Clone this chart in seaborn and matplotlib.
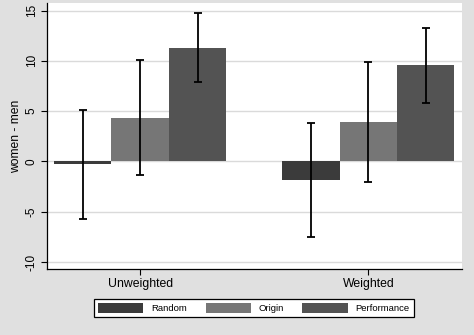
import matplotlib
matplotlib.use("Agg")
import matplotlib.pyplot as plt
from matplotlib.patches import Patch
import seaborn as sns
import pandas as pd

groups = ["Unweighted", "Weighted"]
series = ["Random", "Origin", "Performance"]
random_vals = [-0.3, -1.85]
origin_vals = [4.35, 3.9]
performance_vals = [11.3, 9.55]
random_lo = [-5.7, -7.55]
random_hi = [5.1, 3.85]
origin_lo = [-1.35, -2.05]
origin_hi = [10.05, 9.85]
performance_lo = [7.9, 5.85]
performance_hi = [14.8, 13.3]
y_ticks = [-10, -5, 0, 5, 10, 15]

colors = ["#3b3b3b", "#767676", "#535353"]

rows = []
for s, vals, lo, hi in [("Random", random_vals, random_lo, random_hi),
                        ("Origin", origin_vals, origin_lo, origin_hi),
                        ("Performance", performance_vals, performance_lo, performance_hi)]:
    for g, v, l, h in zip(groups, vals, lo, hi):
        rows.append({"group": g, "series": s, "value": v, "lo": l, "hi": h})
df = pd.DataFrame(rows)

sns.set_style("white")
plt.rcParams["font.family"] = ["Liberation Sans", "DejaVu Sans"]
plt.rcParams["text.color"] = "black"
plt.rcParams["axes.labelcolor"] = "black"
plt.rcParams["xtick.color"] = "black"
plt.rcParams["ytick.color"] = "black"

fig = plt.figure(figsize=(4.74, 3.35), dpi=100, facecolor="#e0e0e0")
ax = fig.add_axes([47/474, 1-269/335, (462-47)/474, (269-3)/335])
ax.set_facecolor("white")

sns.barplot(data=df, x="group", y="value", hue="series", hue_order=series,
            order=groups, palette=colors, width=0.754, errorbar=None,
            saturation=1, ax=ax, legend=False, linewidth=0, zorder=2)

for s, cont in zip(series, ax.containers):
    sub = df[df["series"] == s].set_index("group").loc[groups]
    for patch, (_, r) in zip(cont.patches, sub.iterrows()):
        xc = patch.get_x() + patch.get_width() / 2
        ax.errorbar([xc], [r["value"]],
                    yerr=[[r["value"] - r["lo"]], [r["hi"] - r["value"]]],
                    fmt="none", ecolor="black", elinewidth=1.3, capsize=2.6,
                    capthick=1.3, zorder=3)

ax.set_xlim(-0.408, 1.41)
ax.set_ylim(-10.7, 15.75)
ax.set_yticks(y_ticks)
ax.set_yticklabels([str(t) for t in y_ticks], rotation=90, va="center", fontsize=8.5)
ax.tick_params(axis="x", labelsize=8.8)
ax.tick_params(axis="both", direction="out", length=4, width=0.8, color="black",
               left=True, bottom=True, pad=2.5)
ax.yaxis.grid(True, color="#dadada", linewidth=1, zorder=0)
ax.set_axisbelow(True)
ax.set_xlabel("")
ax.set_ylabel("women - men", fontsize=8.7, labelpad=3)
for sp in ["top", "right"]:
    ax.spines[sp].set_visible(False)
for sp in ["left", "bottom"]:
    ax.spines[sp].set_color("black")
    ax.spines[sp].set_linewidth(0.9)

handles = [Patch(facecolor=c, edgecolor="none") for c in colors]
leg = fig.legend(handles, series, loc="center", bbox_to_anchor=(254/474, 1-308/335),
                 ncol=3, fontsize=6.8, frameon=True, fancybox=False, edgecolor="black",
                 handlelength=4.77, handleheight=1.27, handletextpad=0.85,
                 columnspacing=1.95, borderpad=0.45, framealpha=1)
leg.get_frame().set_linewidth(0.9)

fig.savefig("out.png", dpi=100, facecolor=fig.get_facecolor())
